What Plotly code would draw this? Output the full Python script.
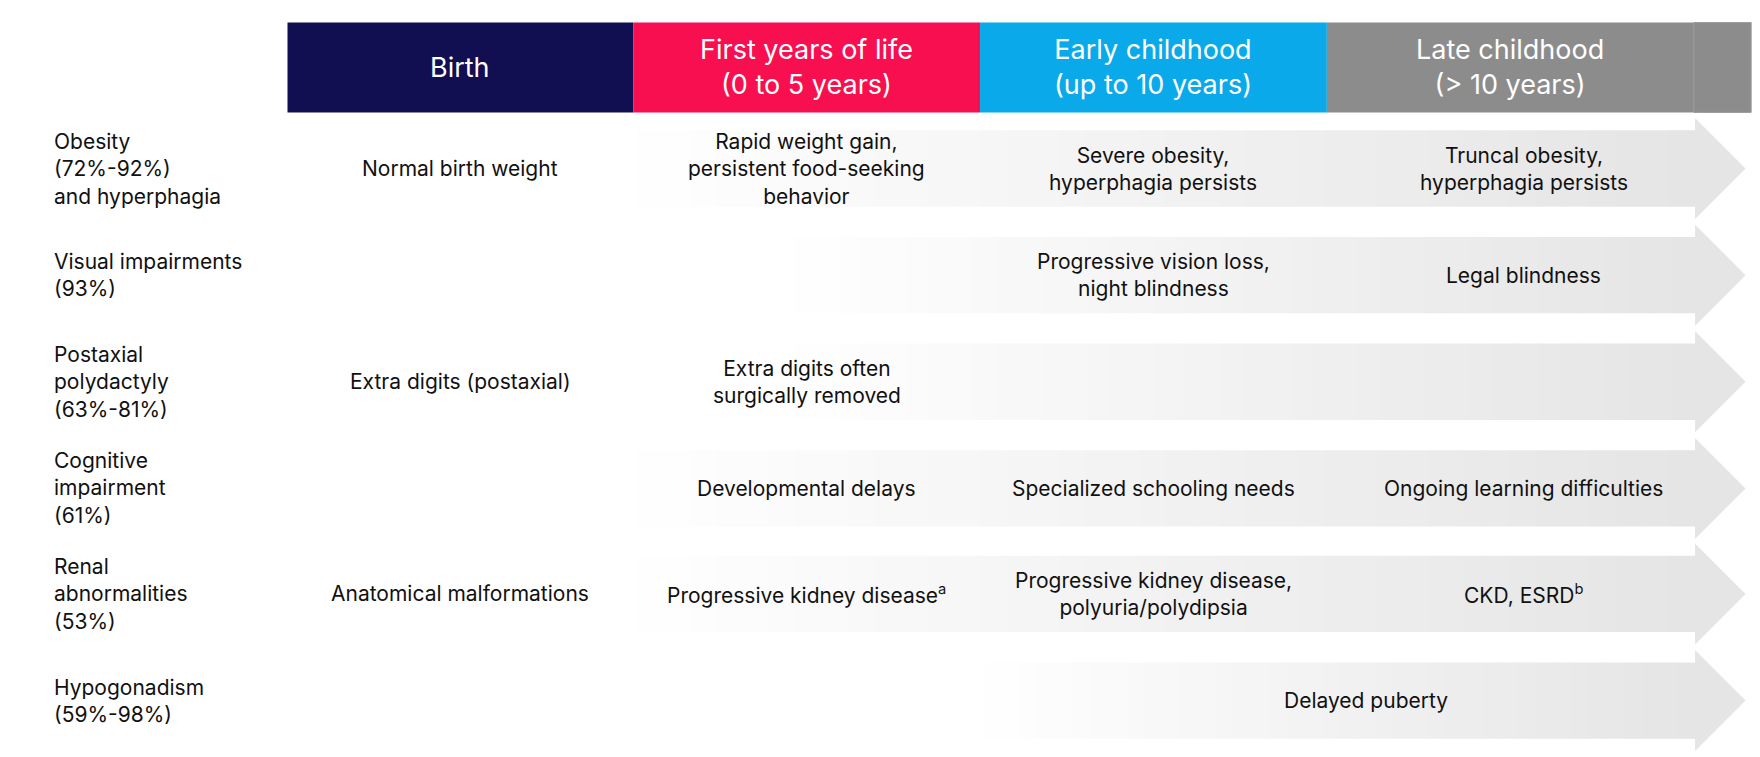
import plotly.graph_objects as go

headers = ["Birth", "First years of life<br>(0 to 5 years)", "Early childhood<br>(up to 10 years)", "Late childhood<br>(> 10 years)"]
header_colors = ["#120e52", "#f80f50", "#0aaaea", "#8c8c8c"]
row_labels = ["Obesity<br>(72%-92%)<br>and hyperphagia", "Visual impairments<br>(93%)",
              "Postaxial<br>polydactyly<br>(63%-81%)", "Cognitive<br>impairment<br>(61%)",
              "Renal<br>abnormalities<br>(53%)", "Hypogonadism<br>(59%-98%)"]
cells = [
    ["Normal birth weight", "Rapid weight gain,<br>persistent food-seeking<br>behavior", "Severe obesity,<br>hyperphagia persists", "Truncal obesity,<br>hyperphagia persists"],
    ["", "", "Progressive vision loss,<br>night blindness", "Legal blindness"],
    ["Extra digits (postaxial)", "Extra digits often<br>surgically removed", "", ""],
    ["", "Developmental delays", "Specialized schooling needs", "Ongoing learning difficulties"],
    ["Anatomical malformations", "Progressive kidney disease<sup>a</sup>", "Progressive kidney disease,<br>polyuria/polydipsia", "CKD, ESRD<sup>b</sup>"],
    ["", "", "", ""],
]
spanning = {5: "Delayed puberty"}

W, H = 1760, 757
S = 1760 / 1568
col_edges = [249, 557, 866, 1175, 1502]
row_centers = [143, 238, 333, 428, 522, 617]
arrow_start = [560, 700, 700, 560, 560, 870]
FS = 21
FONT = "Inter"

fig = go.Figure()
shapes = []
ann = []
for i, (h, c) in enumerate(zip(headers, header_colors)):
    shapes.append(dict(type="rect", x0=col_edges[i]*S, x1=col_edges[i+1]*S, y0=13*S, y1=93*S,
                       fillcolor=c, line_width=0, layer="below"))
    ann.append(dict(x=(col_edges[i]+col_edges[i+1])/2*S, y=53*S, text=h, showarrow=False,
                    font=dict(size=27, color="white", family=FONT), xanchor="center", yanchor="middle"))
shapes.append(dict(type="rect", x0=1502*S, x1=1553*S, y0=13*S, y1=93*S, fillcolor="#8c8c8c",
                   line=dict(color="#9a9a9a", width=1), layer="below"))

def grey(t):
    v = int(round(255 - t * (255 - 229)))
    return f"rgb({v},{v},{v})"

tip, base = 1548*S, 1503*S
for r, yc0 in enumerate(row_centers):
    yc = yc0*S
    x0 = arrow_start[r]*S
    n = 40
    for k in range(n):
        xa = x0 + (base - x0) * k / n
        xb = x0 + (base - x0) * (k + 1) / n + 1
        shapes.append(dict(type="rect", x0=xa, x1=xb, y0=yc-34*S, y1=yc+34*S,
                           fillcolor=grey((k+1)/n), line_width=0, layer="below"))
    shapes.append(dict(type="path", path=f"M {base} {yc-45*S} L {tip} {yc} L {base} {yc+45*S} Z",
                       fillcolor=grey(1), line_width=0, layer="below"))
    ann.append(dict(x=39*S, y=yc, text=row_labels[r], showarrow=False, xanchor="left", yanchor="middle",
                    align="left", font=dict(size=FS, color="#111111", family=FONT)))
    for c, t in enumerate(cells[r]):
        if t:
            cx = ((col_edges[c]+col_edges[c+1])/2 + (12 if c == 3 else 0))*S
            ann.append(dict(x=cx, y=yc, text=t, showarrow=False, xanchor="center", yanchor="middle",
                            align="center", font=dict(size=FS, color="#111111", family=FONT)))
    if r in spanning:
        ann.append(dict(x=1210*S, y=yc, text=spanning[r], showarrow=False, xanchor="center", yanchor="middle",
                        font=dict(size=FS, color="#111111", family=FONT)))

fig.update_layout(width=W, height=H, margin=dict(l=0, r=0, t=0, b=0),
                  plot_bgcolor="white", paper_bgcolor="white", shapes=shapes, annotations=ann,
                  xaxis=dict(range=[0, W], visible=False, fixedrange=True),
                  yaxis=dict(range=[H, 0], visible=False, fixedrange=True), showlegend=False)
fig.write_html("out.html")
